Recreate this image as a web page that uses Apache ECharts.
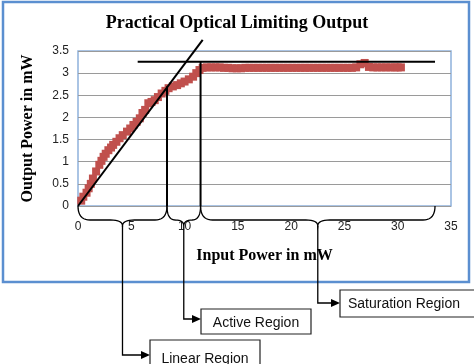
<!DOCTYPE html>
<html><head><meta charset="utf-8">
<script src="https://cdn.jsdelivr.net/npm/echarts@6/dist/echarts.min.js"></script>
<style>html,body{margin:0;padding:0;background:#fff}#c{width:474px;height:364px}</style>
</head><body><div id="c"></div>
<script>
// Measured output (mW) vs input (mW)
const inputPower = [0.3,0.5,0.8,1.0,1.2,1.4,1.7,2.0,2.2,2.4,2.6,2.85,3.1,3.3,3.6,3.9,4.2,4.6,4.9,5.2,5.5,5.8,6.05,6.3,6.6,6.9,7.2,7.5,7.85,8.2,8.5,8.9,9.3,9.65,10.0,10.4,10.8,11.1,11.4,11.7,12.1,12.5,12.9,13.3,13.7,14.1,14.5,14.9,15.3,15.7,16.1,16.5,16.9,17.3,17.7,18.1,18.5,18.9,19.3,19.7,20.1,20.5,20.9,21.3,21.7,22.1,22.5,22.9,23.3,23.7,24.1,24.5,24.9,25.3,25.7,26.1,26.5,26.9,27.3,27.7,28.1,28.5,28.9,29.3,29.7,30.0,30.3];
const outputPower = [0.12,0.21,0.3,0.4,0.5,0.62,0.78,0.93,1.02,1.11,1.18,1.26,1.32,1.38,1.45,1.53,1.6,1.68,1.75,1.83,1.9,1.98,2.1,2.17,2.32,2.35,2.39,2.46,2.54,2.6,2.66,2.7,2.73,2.77,2.81,2.86,2.92,3.0,3.07,3.12,3.13,3.13,3.13,3.13,3.12,3.12,3.11,3.11,3.11,3.12,3.12,3.12,3.12,3.12,3.12,3.12,3.12,3.12,3.12,3.12,3.12,3.12,3.12,3.12,3.12,3.12,3.12,3.12,3.12,3.12,3.12,3.12,3.12,3.12,3.12,3.13,3.2,3.23,3.14,3.13,3.13,3.13,3.13,3.13,3.13,3.13,3.13];
// Annotation lines (data coordinates)
const linearFitX = [0, 11.7];
const linearFitY = [0, 3.75];
const saturationX = [5.6, 33.5];
const saturationY = [3.26, 3.26];
const activeStartX = [8.35, 8.35];
const activeStartY = [2.7, 0];
const saturationStartX = [11.5, 11.5];
const saturationStartY = [3.26, 0];
const braceBounds = [[0, 8.35], [8.35, 11.5], [11.5, 33.5]];
const regionLabels = ['Linear Region', 'Active Region', 'Saturation Region'];
const xTicks = [0,5,10,15,20,25,30,35];
const yTicks = [0,0.5,1,1.5,2,2.5,3,3.5];

const zip = (a,b) => a.map((v,i)=>[v,b[i]]);
const chart = echarts.init(document.getElementById('c'), null, {renderer:'canvas'});
const lineS = (x,y) => ({type:'line', data:zip(x,y), symbol:'none', clip:false, silent:true,
  lineStyle:{color:'#000', width:2}, z:5, animation:false});
chart.setOption({
  animation:false,
  backgroundColor:'#fff',
  title:{text:'Practical Optical Limiting Output', left:'center', top:9,
    textStyle:{fontFamily:'Liberation Serif', fontWeight:'bold', fontSize:18, color:'#000'}},
  grid:{left:78, top:51, right:23, bottom:158, show:true, borderColor:'#8eb1dc', borderWidth:1.5},
  xAxis:{type:'value', min:xTicks[0], max:xTicks[xTicks.length-1], interval:5,
    name:'Input Power in mW', nameLocation:'middle', nameGap:42,
    nameTextStyle:{fontFamily:'Liberation Serif', fontWeight:'bold', fontSize:16, color:'#000'},
    axisLine:{show:false}, axisTick:{show:false}, splitLine:{show:false},
    axisLabel:{margin:15, fontFamily:'Liberation Sans', fontSize:12, color:'#222'}},
  yAxis:{type:'value', min:yTicks[0], max:yTicks[yTicks.length-1], interval:0.5,
    name:'Output Power in mW', nameLocation:'middle', nameGap:42,
    nameTextStyle:{fontFamily:'Liberation Serif', fontWeight:'bold', fontSize:16, color:'#000'},
    axisLine:{show:false}, axisTick:{show:false},
    splitLine:{lineStyle:{color:'#9a9a9a', width:1}},
    axisLabel:{margin:9, fontFamily:'Liberation Sans', fontSize:12, color:'#222'}},
  series:[
    {type:'scatter', data:zip(inputPower, outputPower), symbol:'rect', symbolSize:8,
      itemStyle:{color:'#c0504d', opacity:1}, z:3},
    lineS(linearFitX, linearFitY),
    lineS(saturationX, saturationY),
    lineS(activeStartX, activeStartY),
    lineS(saturationStartX, saturationStartY)
  ]
});

const px = v => chart.convertToPixel({gridIndex:0}, v);
const y0 = px([0,0])[1];
const braceDepth = 14, tip = 6;
const graphics = [];
// outer frame
graphics.push({type:'rect', shape:{x:3, y:2, width:466, height:280}, style:{fill:null, stroke:'#5b8fd0', lineWidth:2.5}, z:0, silent:true});
function quad(p0, c, p1, n) {
  const out = [];
  for (let k = 0; k <= n; k++) {
    const t = k/n, a = (1-t)*(1-t), b = 2*(1-t)*t, d = t*t;
    out.push([a*p0[0]+b*c[0]+d*p1[0], a*p0[1]+b*c[1]+d*p1[1]]);
  }
  return out;
}
const centers = [];
braceBounds.forEach(b => {
  const x0 = px([b[0],0])[0], x1 = px([b[1],0])[0];
  const xc = (x0+x1)/2, r = Math.min(12, (x1-x0)/4);
  const y1 = y0 + braceDepth, y2 = y1 + tip;
  centers.push([xc, y2]);
  const pts = [].concat(
    quad([x0,y0],[x0,y1],[x0+r,y1],10),
    quad([xc-r,y1],[xc,y1],[xc,y2],8),
    quad([xc,y2],[xc,y1],[xc+r,y1],8),
    quad([x1-r,y1],[x1,y1],[x1,y0],10));
  graphics.push({type:'polyline', silent:true, z:10, shape:{points:pts},
    style:{fill:null, stroke:'#000', lineWidth:1.3}});
});
// callout boxes (layout positions)
const boxes = [
  {x:150, y:340, w:110, h:30, arrowY:355, dy:4},
  {x:201, y:309, w:110, h:25, arrowY:319, dy:2},
  {x:340, y:290, w:140, h:27, arrowY:303, dy:1}
];
boxes.forEach((bx,i) => {
  const [xc, yt] = centers[i];
  graphics.push({type:'polyline', silent:true, z:10, shape:{points:[[xc,yt],[xc,bx.arrowY],[bx.x-8,bx.arrowY]]},
    style:{fill:null, stroke:'#000', lineWidth:1.3}});
  graphics.push({type:'polygon', silent:true, z:10, shape:{points:[[bx.x-9,bx.arrowY-4],[bx.x,bx.arrowY],[bx.x-9,bx.arrowY+4]]},
    style:{fill:'#000'}});
  graphics.push({type:'rect', silent:true, z:10, shape:{x:bx.x, y:bx.y, width:bx.w, height:bx.h},
    style:{fill:'#fff', stroke:'#222', lineWidth:1.2}});
  graphics.push({type:'text', silent:true, z:11, x:bx.x+bx.w/2 - (i===2?6:0), y:bx.y+bx.h/2+bx.dy,
    style:{text:regionLabels[i], fontFamily:'Liberation Sans', fontSize:14, fill:'#111', align:'center', verticalAlign:'middle'}});
});
chart.setOption({graphic:graphics});
</script></body></html>
